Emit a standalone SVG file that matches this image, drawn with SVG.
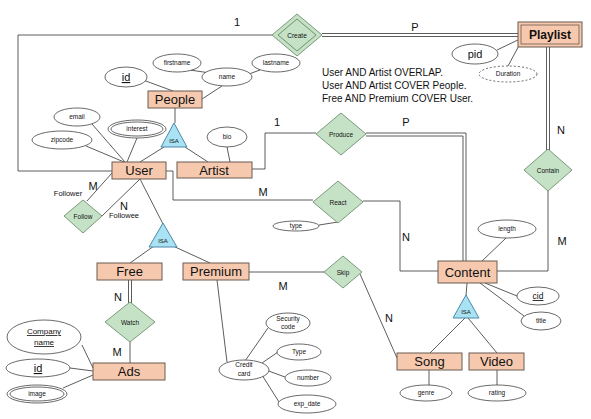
<svg xmlns="http://www.w3.org/2000/svg" width="591" height="419" viewBox="0 0 591 419">
<style>
.ent{fill:#f6c9ae;stroke:#6b5a50;stroke-width:1}
.rel{fill:#c6e2c6;stroke:#7a9a7a;stroke-width:1}
.isa{fill:#a9e2f3;stroke:#4b8aaa;stroke-width:1}
.att{fill:#fff;stroke:#444;stroke-width:0.8}
.ln{stroke:#333;stroke-width:0.8;fill:none}
text{font-family:"Liberation Sans",Arial,sans-serif;fill:#111;text-anchor:middle}
.et{font-size:13px}
.rt{font-size:6.5px}
.at{font-size:6.5px}
.lb{font-size:11px}
.nt{font-size:10px;text-anchor:start}
.u{text-decoration:underline}
</style>
<rect width="591" height="419" fill="#fff"/>
<g id="connectors">
<polyline class="ln" points="272,35 18,35 18,171 112,171"/>
<line class="ln" x1="322" y1="33.5" x2="518" y2="33.5"/>
<line class="ln" x1="322" y1="36.5" x2="518" y2="36.5"/>
<line class="ln" x1="546.5" y1="47" x2="546.5" y2="150"/>
<line class="ln" x1="549.5" y1="47" x2="549.5" y2="150"/>
<polyline class="ln" points="548,191 548,271 497,271"/>
<line class="ln" x1="497" y1="50" x2="520" y2="39"/>
<line class="ln" x1="508" y1="66" x2="522" y2="40"/>
<line class="ln" x1="175" y1="108" x2="175" y2="123"/>
<line class="ln" x1="143" y1="80" x2="173" y2="91"/>
<line class="ln" x1="190" y1="70" x2="210" y2="73"/>
<line class="ln" x1="249" y1="74" x2="260" y2="70"/>
<line class="ln" x1="222" y1="86" x2="202" y2="99"/>
<line class="ln" x1="164" y1="147" x2="140" y2="162"/>
<line class="ln" x1="185" y1="147" x2="208" y2="162"/>
<line class="ln" x1="227" y1="147" x2="230" y2="162"/>
<line class="ln" x1="92" y1="124" x2="125" y2="162"/>
<line class="ln" x1="86" y1="146" x2="124" y2="162"/>
<line class="ln" x1="137" y1="138" x2="127" y2="162"/>
<line class="ln" x1="87" y1="201" x2="112" y2="173"/>
<line class="ln" x1="102" y1="216" x2="140" y2="179"/>
<line class="ln" x1="140" y1="179" x2="163" y2="224"/>
<line class="ln" x1="154" y1="246" x2="130" y2="263"/>
<line class="ln" x1="173" y1="246" x2="210" y2="263"/>
<line class="ln" x1="249" y1="272" x2="324" y2="272"/>
<line class="ln" x1="360" y1="274" x2="397" y2="358"/>
<polyline class="ln" points="316,133 265,133 265,169 252,169"/>
<polyline class="ln" points="366,133 466,133 466,261"/>
<polyline class="ln" points="366,136 463,136 463,261"/>
<polyline class="ln" points="166,171 173,171 173,200 313,200"/>
<polyline class="ln" points="363,201 400,201 400,271 438,271"/>
<line class="ln" x1="319" y1="225" x2="338" y2="222"/>
<line class="ln" x1="506" y1="238" x2="482" y2="261"/>
<line class="ln" x1="485" y1="283" x2="517" y2="296"/>
<line class="ln" x1="480" y1="283" x2="524" y2="316"/>
<line class="ln" x1="467" y1="283" x2="466" y2="296"/>
<line class="ln" x1="465" y1="318" x2="430" y2="353"/>
<line class="ln" x1="468" y1="318" x2="497" y2="353"/>
<line class="ln" x1="429" y1="370" x2="429" y2="385"/>
<line class="ln" x1="497" y1="370" x2="497" y2="385"/>
<line class="ln" x1="128.5" y1="280" x2="128.5" y2="303"/>
<line class="ln" x1="131.5" y1="280" x2="131.5" y2="303"/>
<line class="ln" x1="130" y1="342" x2="130" y2="363"/>
<line class="ln" x1="82" y1="345" x2="93" y2="368"/>
<line class="ln" x1="70" y1="368" x2="93" y2="371"/>
<line class="ln" x1="63" y1="388" x2="93" y2="375"/>
<line class="ln" x1="217" y1="280" x2="227" y2="362"/>
<line class="ln" x1="245" y1="361" x2="268" y2="328"/>
<line class="ln" x1="262" y1="363" x2="278" y2="352"/>
<line class="ln" x1="266" y1="370" x2="285" y2="377"/>
<line class="ln" x1="262" y1="375" x2="279" y2="402"/>
</g>
<g id="labels">
<text class="lb" x="237" y="26">1</text>
<text class="lb" x="415" y="31">P</text>
<text class="lb" x="561" y="134">N</text>
<text class="lb" x="562" y="245">M</text>
<text class="lb" x="277" y="126">1</text>
<text class="lb" x="406" y="126">P</text>
<text class="lb" x="263" y="196">M</text>
<text class="lb" x="406" y="241">N</text>
<text class="lb" x="93" y="190">M</text>
<text class="lb" x="124" y="210">N</text>
<text class="at" x="68" y="196" style="font-size:7.5px">Follower</text>
<text class="at" x="124" y="218" style="font-size:7.5px">Followee</text>
<text class="lb" x="283" y="290">M</text>
<text class="lb" x="389" y="322">N</text>
<text class="lb" x="118" y="301">N</text>
<text class="lb" x="117" y="356">M</text>
<text class="nt" x="322" y="76">User AND Artist OVERLAP.</text>
<text class="nt" x="322" y="89">User AND Artist COVER People.</text>
<text class="nt" x="322" y="102">Free AND Premium COVER User.</text>
</g>
<g id="Playlist">
<rect class="ent" x="518" y="22" width="64" height="25"/>
<rect x="521" y="25" width="58" height="19" fill="none" stroke="#6b5a50" stroke-width="0.8"/>
<text class="et" x="550" y="39" style="font-size:12px;font-weight:bold">Playlist</text>
</g>
<g id="pid"><ellipse class="att" cx="475" cy="54" rx="23" ry="10"/><text x="475" y="58" style="font-size:11px">pid</text></g>
<g id="Duration"><ellipse class="att" cx="508" cy="74" rx="29" ry="8" stroke-dasharray="2,2"/><text class="at" x="508" y="76">Duration</text></g>
<g id="Create">
<polygon class="rel" points="297,14 322,35 297,56 272,35"/>
<polygon points="297,19 316,35 297,51 278,35" fill="none" stroke="#5c7a5c" stroke-width="0.8"/>
<text class="rt" x="297" y="37.5">Create</text>
</g>
<g id="Contain"><polygon class="rel" points="548,149 572,170 548,191 524,170"/><text class="rt" x="548" y="172.5">Contain</text></g>
<g id="Produce"><polygon class="rel" points="341,113 366,134 341,155 316,134"/><text class="rt" x="341" y="136.5">Produce</text></g>
<g id="React"><polygon class="rel" points="338,181 363,202 338,223 313,202"/><text class="rt" x="338" y="204.5">React</text></g>
<g id="Skip"><polygon class="rel" points="343,256 362,272 343,288 324,272"/><text class="rt" x="343" y="274.5">Skip</text></g>
<g id="Follow"><polygon class="rel" points="83,200 102,216 83,233 64,216"/><text class="rt" x="83" y="218.5">Follow</text></g>
<g id="Watch"><polygon class="rel" points="130,302 155,322 130,342 105,322"/><text class="rt" x="130" y="324.5">Watch</text></g>
<g id="People"><rect class="ent" x="148" y="91" width="54" height="17"/><text class="et" x="175" y="104">People</text></g>
<g id="People_id"><ellipse class="att" cx="126" cy="77" rx="21" ry="10"/><text class="u" x="126" y="81" style="font-size:11px">id</text></g>
<g id="firstname"><ellipse class="att" cx="177" cy="63" rx="24" ry="9"/><text class="at" x="177" y="65">firstname</text></g>
<g id="name"><ellipse class="att" cx="227" cy="77" rx="25" ry="9"/><text class="at" x="227" y="79">name</text></g>
<g id="lastname"><ellipse class="att" cx="276" cy="63" rx="24" ry="9"/><text class="at" x="276" y="65">lastname</text></g>
<g id="ISA_People"><polygon class="isa" points="174,123 187,147 161,147"/><text x="174" y="143" style="font-size:6px">ISA</text></g>
<g id="User"><rect class="ent" x="112" y="162" width="54" height="17"/><text class="et" x="139" y="175">User</text></g>
<g id="Artist"><rect class="ent" x="177" y="162" width="75" height="16"/><text class="et" x="214" y="175">Artist</text></g>
<g id="bio"><ellipse class="att" cx="227" cy="137" rx="20" ry="10"/><text class="at" x="227" y="139">bio</text></g>
<g id="email"><ellipse class="att" cx="77" cy="117" rx="23" ry="9"/><text class="at" x="77" y="119">email</text></g>
<g id="zipcode"><ellipse class="att" cx="62" cy="140" rx="30" ry="9"/><text class="at" x="62" y="142">zipcode</text></g>
<g id="interest"><ellipse class="att" cx="137" cy="129" rx="29" ry="9"/><ellipse class="att" cx="137" cy="129" rx="26" ry="7"/><text class="at" x="137" y="131">interest</text></g>
<g id="ISA_User"><polygon class="isa" points="163,223 177,247 149,247"/><text x="163" y="243" style="font-size:6px">ISA</text></g>
<g id="Free"><rect class="ent" x="97" y="263" width="65" height="17"/><text class="et" x="129.5" y="276">Free</text></g>
<g id="Premium"><rect class="ent" x="183" y="263" width="66" height="17"/><text class="et" x="216" y="276">Premium</text></g>
<g id="Ads"><rect class="ent" x="93" y="363" width="72" height="17"/><text class="et" x="129" y="376">Ads</text></g>
<g id="Company_name"><ellipse class="att" cx="44" cy="337" rx="37" ry="17"/><text class="u" x="44" y="334" style="font-size:8px">Company</text><text class="u" x="44" y="345" style="font-size:8px">name</text></g>
<g id="Ads_id"><ellipse class="att" cx="38" cy="368" rx="32" ry="9"/><text class="u" x="38" y="372" style="font-size:11px">id</text></g>
<g id="image"><ellipse class="att" cx="37" cy="394" rx="30" ry="9"/><ellipse class="att" cx="37" cy="394" rx="27" ry="7"/><text class="at" x="37" y="396">image</text></g>
<g id="Credit_card"><ellipse class="att" cx="244" cy="370" rx="25" ry="10"/><text class="at" x="244" y="367">Credit</text><text class="at" x="244" y="376">card</text></g>
<g id="Security_code"><ellipse class="att" cx="288" cy="323" rx="22" ry="10"/><text class="at" x="288" y="321">Security</text><text class="at" x="288" y="329">code</text></g>
<g id="Type"><ellipse class="att" cx="299" cy="352" rx="22" ry="8"/><text class="at" x="299" y="354">Type</text></g>
<g id="number"><ellipse class="att" cx="308" cy="378" rx="23" ry="8"/><text class="at" x="308" y="380">number</text></g>
<g id="exp_date"><ellipse class="att" cx="307" cy="404" rx="29" ry="9"/><text class="at" x="307" y="406">exp_date</text></g>
<g id="type"><ellipse class="att" cx="296" cy="226" rx="23" ry="5"/><text class="at" x="296" y="228">type</text></g>
<g id="Content"><rect class="ent" x="438" y="261" width="59" height="22"/><text class="et" x="467.5" y="276.5">Content</text></g>
<g id="length"><ellipse class="att" cx="507" cy="229" rx="29" ry="9"/><text class="at" x="507" y="231">length</text></g>
<g id="cid"><ellipse class="att" cx="538" cy="296" rx="21" ry="9"/><text class="u" x="538" y="299" style="font-size:8.5px">cid</text></g>
<g id="title"><ellipse class="att" cx="541" cy="321" rx="20" ry="9"/><text class="at" x="541" y="323">title</text></g>
<g id="ISA_Content"><polygon class="isa" points="466,295 479,318 453,318"/><text x="466" y="314" style="font-size:6px">ISA</text></g>
<g id="Song"><rect class="ent" x="397" y="353" width="65" height="17"/><text class="et" x="429.5" y="366">Song</text></g>
<g id="Video"><rect class="ent" x="469" y="353" width="55" height="17"/><text class="et" x="496.5" y="366">Video</text></g>
<g id="genre"><ellipse class="att" cx="426" cy="393" rx="26" ry="8"/><text class="at" x="426" y="395">genre</text></g>
<g id="rating"><ellipse class="att" cx="497" cy="393" rx="29" ry="8"/><text class="at" x="497" y="395">rating</text></g>
</svg>
